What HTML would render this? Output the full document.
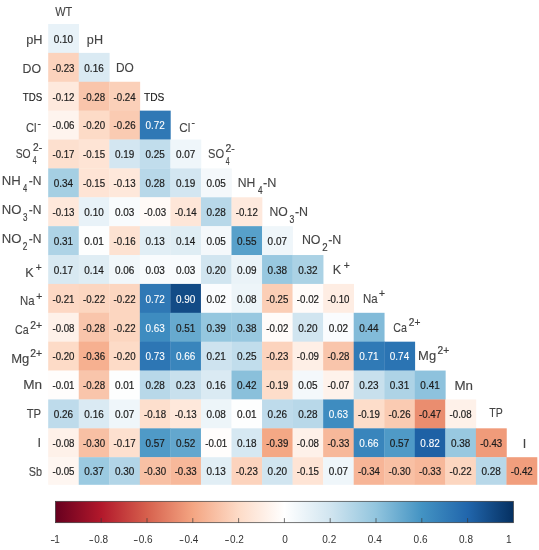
<!DOCTYPE html>
<html><head><meta charset="utf-8"><title>Correlation heatmap</title>
<style>
html,body{margin:0;padding:0;background:#fff;}
svg{display:block;font-family:"Liberation Sans",sans-serif;}
.c{font-size:10.6px;text-anchor:middle;fill:#1c1c1c;stroke:#1c1c1c;stroke-width:0.2px;}
.w{fill:#fff;stroke:#fff;stroke-width:0.1px;}
.l{font-size:12.6px;fill:#444;stroke:#444;stroke-width:0.12px;}
.d{font-size:11.4px;fill:#1a1a1a;stroke:#1a1a1a;stroke-width:0.15px;}
.s{font-size:10.2px;fill:#404040;stroke:#404040;stroke-width:0.2px;}
.t{font-size:10px;fill:#333;}
</style></head><body>
<svg width="539" height="550" viewBox="0 0 539 550">
<defs><linearGradient id="g" x1="0" x2="1" y1="0" y2="0"><stop offset="0%" stop-color="#67001f"/><stop offset="10%" stop-color="#b2182b"/><stop offset="20%" stop-color="#d6604d"/><stop offset="30%" stop-color="#f4a582"/><stop offset="40%" stop-color="#fddbc7"/><stop offset="50%" stop-color="#ffffff"/><stop offset="60%" stop-color="#d1e5f0"/><stop offset="70%" stop-color="#92c5de"/><stop offset="80%" stop-color="#4393c3"/><stop offset="90%" stop-color="#2166ac"/><stop offset="100%" stop-color="#053061"/></linearGradient></defs>
<rect width="539" height="550" fill="#fff"/>
<rect x="48.20" y="24.00" width="30.85" height="29.18" fill="#e8f2f8"/>
<rect x="48.20" y="52.88" width="30.85" height="29.18" fill="#fcd3bd"/><rect x="78.75" y="52.88" width="30.85" height="29.18" fill="#daeaf3"/>
<rect x="48.20" y="81.76" width="30.85" height="29.18" fill="#fee9dd"/><rect x="78.75" y="81.76" width="30.85" height="29.18" fill="#f9c5ab"/><rect x="109.30" y="81.76" width="30.85" height="29.18" fill="#fbd0b9"/>
<rect x="48.20" y="110.64" width="30.85" height="29.18" fill="#fef4ee"/><rect x="78.75" y="110.64" width="30.85" height="29.18" fill="#fddbc7"/><rect x="109.30" y="110.64" width="30.85" height="29.18" fill="#facbb2"/><rect x="139.85" y="110.64" width="30.85" height="29.18" fill="#2f78b5"/>
<rect x="48.20" y="139.52" width="30.85" height="29.18" fill="#fde0cf"/><rect x="78.75" y="139.52" width="30.85" height="29.18" fill="#fee4d5"/><rect x="109.30" y="139.52" width="30.85" height="29.18" fill="#d3e6f1"/><rect x="139.85" y="139.52" width="30.85" height="29.18" fill="#c1ddec"/><rect x="170.40" y="139.52" width="30.85" height="29.18" fill="#eff6fa"/>
<rect x="48.20" y="168.40" width="30.85" height="29.18" fill="#a5cfe3"/><rect x="78.75" y="168.40" width="30.85" height="29.18" fill="#fee4d5"/><rect x="109.30" y="168.40" width="30.85" height="29.18" fill="#fee8db"/><rect x="139.85" y="168.40" width="30.85" height="29.18" fill="#b8d8e9"/><rect x="170.40" y="168.40" width="30.85" height="29.18" fill="#d3e6f1"/><rect x="200.95" y="168.40" width="30.85" height="29.18" fill="#f4f8fb"/>
<rect x="48.20" y="197.28" width="30.85" height="29.18" fill="#fee8db"/><rect x="78.75" y="197.28" width="30.85" height="29.18" fill="#e8f2f8"/><rect x="109.30" y="197.28" width="30.85" height="29.18" fill="#f8fbfd"/><rect x="139.85" y="197.28" width="30.85" height="29.18" fill="#fffaf7"/><rect x="170.40" y="197.28" width="30.85" height="29.18" fill="#fee6d8"/><rect x="200.95" y="197.28" width="30.85" height="29.18" fill="#b8d8e9"/><rect x="231.50" y="197.28" width="30.85" height="29.18" fill="#fee9dd"/>
<rect x="48.20" y="226.16" width="30.85" height="29.18" fill="#aed3e6"/><rect x="78.75" y="226.16" width="30.85" height="29.18" fill="#fdfefe"/><rect x="109.30" y="226.16" width="30.85" height="29.18" fill="#fde2d2"/><rect x="139.85" y="226.16" width="30.85" height="29.18" fill="#e1eef5"/><rect x="170.40" y="226.16" width="30.85" height="29.18" fill="#dfedf4"/><rect x="200.95" y="226.16" width="30.85" height="29.18" fill="#f4f8fb"/><rect x="231.50" y="226.16" width="30.85" height="29.18" fill="#57a0ca"/><rect x="262.05" y="226.16" width="30.85" height="29.18" fill="#eff6fa"/>
<rect x="48.20" y="255.04" width="30.85" height="29.18" fill="#d8e9f2"/><rect x="78.75" y="255.04" width="30.85" height="29.18" fill="#dfedf4"/><rect x="109.30" y="255.04" width="30.85" height="29.18" fill="#f1f7fa"/><rect x="139.85" y="255.04" width="30.85" height="29.18" fill="#f8fbfd"/><rect x="170.40" y="255.04" width="30.85" height="29.18" fill="#f8fbfd"/><rect x="200.95" y="255.04" width="30.85" height="29.18" fill="#d1e5f0"/><rect x="231.50" y="255.04" width="30.85" height="29.18" fill="#eaf3f8"/><rect x="262.05" y="255.04" width="30.85" height="29.18" fill="#98c8e0"/><rect x="292.60" y="255.04" width="30.85" height="29.18" fill="#abd2e5"/>
<rect x="48.20" y="283.92" width="30.85" height="29.18" fill="#fdd8c4"/><rect x="78.75" y="283.92" width="30.85" height="29.18" fill="#fcd6c0"/><rect x="109.30" y="283.92" width="30.85" height="29.18" fill="#fcd6c0"/><rect x="139.85" y="283.92" width="30.85" height="29.18" fill="#2f78b5"/><rect x="170.40" y="283.92" width="30.85" height="29.18" fill="#134b86"/><rect x="200.95" y="283.92" width="30.85" height="29.18" fill="#fafcfe"/><rect x="231.50" y="283.92" width="30.85" height="29.18" fill="#edf5f9"/><rect x="262.05" y="283.92" width="30.85" height="29.18" fill="#fbceb6"/><rect x="292.60" y="283.92" width="30.85" height="29.18" fill="#fffbf9"/><rect x="323.15" y="283.92" width="30.85" height="29.18" fill="#feede3"/>
<rect x="48.20" y="312.80" width="30.85" height="29.18" fill="#fef1e9"/><rect x="78.75" y="312.80" width="30.85" height="29.18" fill="#f9c5ab"/><rect x="109.30" y="312.80" width="30.85" height="29.18" fill="#fcd6c0"/><rect x="139.85" y="312.80" width="30.85" height="29.18" fill="#3e8cc0"/><rect x="170.40" y="312.80" width="30.85" height="29.18" fill="#67aacf"/><rect x="200.95" y="312.80" width="30.85" height="29.18" fill="#95c7df"/><rect x="231.50" y="312.80" width="30.85" height="29.18" fill="#98c8e0"/><rect x="262.05" y="312.80" width="30.85" height="29.18" fill="#fffbf9"/><rect x="292.60" y="312.80" width="30.85" height="29.18" fill="#d1e5f0"/><rect x="323.15" y="312.80" width="30.85" height="29.18" fill="#fafcfe"/><rect x="353.70" y="312.80" width="30.85" height="29.18" fill="#82bbd9"/>
<rect x="48.20" y="341.68" width="30.85" height="29.18" fill="#fddbc7"/><rect x="78.75" y="341.68" width="30.85" height="29.18" fill="#f6b090"/><rect x="109.30" y="341.68" width="30.85" height="29.18" fill="#fddbc7"/><rect x="139.85" y="341.68" width="30.85" height="29.18" fill="#2d76b4"/><rect x="170.40" y="341.68" width="30.85" height="29.18" fill="#3985bc"/><rect x="200.95" y="341.68" width="30.85" height="29.18" fill="#cee3ef"/><rect x="231.50" y="341.68" width="30.85" height="29.18" fill="#c1ddec"/><rect x="262.05" y="341.68" width="30.85" height="29.18" fill="#fcd3bd"/><rect x="292.60" y="341.68" width="30.85" height="29.18" fill="#feefe6"/><rect x="323.15" y="341.68" width="30.85" height="29.18" fill="#f9c5ab"/><rect x="353.70" y="341.68" width="30.85" height="29.18" fill="#307ab6"/><rect x="384.25" y="341.68" width="30.85" height="29.18" fill="#2b74b3"/>
<rect x="48.20" y="370.56" width="30.85" height="29.18" fill="#fffdfc"/><rect x="78.75" y="370.56" width="30.85" height="29.18" fill="#f9c5ab"/><rect x="109.30" y="370.56" width="30.85" height="29.18" fill="#fdfefe"/><rect x="139.85" y="370.56" width="30.85" height="29.18" fill="#b8d8e9"/><rect x="170.40" y="370.56" width="30.85" height="29.18" fill="#c8e0ed"/><rect x="200.95" y="370.56" width="30.85" height="29.18" fill="#daeaf3"/><rect x="231.50" y="370.56" width="30.85" height="29.18" fill="#8ac0db"/><rect x="262.05" y="370.56" width="30.85" height="29.18" fill="#fdddca"/><rect x="292.60" y="370.56" width="30.85" height="29.18" fill="#f4f8fb"/><rect x="323.15" y="370.56" width="30.85" height="29.18" fill="#fef2eb"/><rect x="353.70" y="370.56" width="30.85" height="29.18" fill="#c8e0ed"/><rect x="384.25" y="370.56" width="30.85" height="29.18" fill="#aed3e6"/><rect x="414.80" y="370.56" width="30.85" height="29.18" fill="#8ec2dd"/>
<rect x="48.20" y="399.44" width="30.85" height="29.18" fill="#bedbeb"/><rect x="78.75" y="399.44" width="30.85" height="29.18" fill="#daeaf3"/><rect x="109.30" y="399.44" width="30.85" height="29.18" fill="#eff6fa"/><rect x="139.85" y="399.44" width="30.85" height="29.18" fill="#fddfcd"/><rect x="170.40" y="399.44" width="30.85" height="29.18" fill="#fee8db"/><rect x="200.95" y="399.44" width="30.85" height="29.18" fill="#edf5f9"/><rect x="231.50" y="399.44" width="30.85" height="29.18" fill="#fdfefe"/><rect x="262.05" y="399.44" width="30.85" height="29.18" fill="#bedbeb"/><rect x="292.60" y="399.44" width="30.85" height="29.18" fill="#b8d8e9"/><rect x="323.15" y="399.44" width="30.85" height="29.18" fill="#3e8cc0"/><rect x="353.70" y="399.44" width="30.85" height="29.18" fill="#fdddca"/><rect x="384.25" y="399.44" width="30.85" height="29.18" fill="#facbb2"/><rect x="414.80" y="399.44" width="30.85" height="29.18" fill="#ea8d6f"/><rect x="445.35" y="399.44" width="30.85" height="29.18" fill="#fef1e9"/>
<rect x="48.20" y="428.32" width="30.85" height="29.18" fill="#fef1e9"/><rect x="78.75" y="428.32" width="30.85" height="29.18" fill="#f8c0a4"/><rect x="109.30" y="428.32" width="30.85" height="29.18" fill="#fde0cf"/><rect x="139.85" y="428.32" width="30.85" height="29.18" fill="#4f9ac7"/><rect x="170.40" y="428.32" width="30.85" height="29.18" fill="#63a7ce"/><rect x="200.95" y="428.32" width="30.85" height="29.18" fill="#fffdfc"/><rect x="231.50" y="428.32" width="30.85" height="29.18" fill="#d6e8f2"/><rect x="262.05" y="428.32" width="30.85" height="29.18" fill="#f4a885"/><rect x="292.60" y="428.32" width="30.85" height="29.18" fill="#fef1e9"/><rect x="323.15" y="428.32" width="30.85" height="29.18" fill="#f7b89a"/><rect x="353.70" y="428.32" width="30.85" height="29.18" fill="#3985bc"/><rect x="384.25" y="428.32" width="30.85" height="29.18" fill="#4f9ac7"/><rect x="414.80" y="428.32" width="30.85" height="29.18" fill="#1e61a5"/><rect x="445.35" y="428.32" width="30.85" height="29.18" fill="#98c8e0"/><rect x="475.90" y="428.32" width="30.85" height="29.18" fill="#f09b7a"/>
<rect x="48.20" y="457.20" width="30.85" height="27.60" fill="#fef6f1"/><rect x="78.75" y="457.20" width="30.85" height="27.60" fill="#9bcae1"/><rect x="109.30" y="457.20" width="30.85" height="27.60" fill="#b2d5e7"/><rect x="139.85" y="457.20" width="30.85" height="27.60" fill="#f8c0a4"/><rect x="170.40" y="457.20" width="30.85" height="27.60" fill="#f7b89a"/><rect x="200.95" y="457.20" width="30.85" height="27.60" fill="#e1eef5"/><rect x="231.50" y="457.20" width="30.85" height="27.60" fill="#fcd3bd"/><rect x="262.05" y="457.20" width="30.85" height="27.60" fill="#d1e5f0"/><rect x="292.60" y="457.20" width="30.85" height="27.60" fill="#fee4d5"/><rect x="323.15" y="457.20" width="30.85" height="27.60" fill="#eff6fa"/><rect x="353.70" y="457.20" width="30.85" height="27.60" fill="#f7b597"/><rect x="384.25" y="457.20" width="30.85" height="27.60" fill="#f8c0a4"/><rect x="414.80" y="457.20" width="30.85" height="27.60" fill="#f7b89a"/><rect x="445.35" y="457.20" width="30.85" height="27.60" fill="#fcd6c0"/><rect x="475.90" y="457.20" width="30.85" height="27.60" fill="#b8d8e9"/><rect x="506.45" y="457.20" width="30.85" height="27.60" fill="#f19e7d"/>
<text class="c" x="63.48" y="42.74" textLength="19.4" lengthAdjust="spacingAndGlyphs">0.10</text>
<text class="c" x="63.48" y="71.62" textLength="22.1" lengthAdjust="spacingAndGlyphs">-0.23</text><text class="c" x="94.03" y="71.62" textLength="19.4" lengthAdjust="spacingAndGlyphs">0.16</text>
<text class="c" x="63.48" y="100.50" textLength="22.1" lengthAdjust="spacingAndGlyphs">-0.12</text><text class="c" x="94.03" y="100.50" textLength="22.1" lengthAdjust="spacingAndGlyphs">-0.28</text><text class="c" x="124.58" y="100.50" textLength="22.1" lengthAdjust="spacingAndGlyphs">-0.24</text>
<text class="c" x="63.48" y="129.38" textLength="22.1" lengthAdjust="spacingAndGlyphs">-0.06</text><text class="c" x="94.03" y="129.38" textLength="22.1" lengthAdjust="spacingAndGlyphs">-0.20</text><text class="c" x="124.58" y="129.38" textLength="22.1" lengthAdjust="spacingAndGlyphs">-0.26</text><text class="c w" x="155.12" y="129.38" textLength="19.4" lengthAdjust="spacingAndGlyphs">0.72</text>
<text class="c" x="63.48" y="158.26" textLength="22.1" lengthAdjust="spacingAndGlyphs">-0.17</text><text class="c" x="94.03" y="158.26" textLength="22.1" lengthAdjust="spacingAndGlyphs">-0.15</text><text class="c" x="124.58" y="158.26" textLength="19.4" lengthAdjust="spacingAndGlyphs">0.19</text><text class="c" x="155.12" y="158.26" textLength="19.4" lengthAdjust="spacingAndGlyphs">0.25</text><text class="c" x="185.68" y="158.26" textLength="19.4" lengthAdjust="spacingAndGlyphs">0.07</text>
<text class="c" x="63.48" y="187.14" textLength="19.4" lengthAdjust="spacingAndGlyphs">0.34</text><text class="c" x="94.03" y="187.14" textLength="22.1" lengthAdjust="spacingAndGlyphs">-0.15</text><text class="c" x="124.58" y="187.14" textLength="22.1" lengthAdjust="spacingAndGlyphs">-0.13</text><text class="c" x="155.12" y="187.14" textLength="19.4" lengthAdjust="spacingAndGlyphs">0.28</text><text class="c" x="185.68" y="187.14" textLength="19.4" lengthAdjust="spacingAndGlyphs">0.19</text><text class="c" x="216.23" y="187.14" textLength="19.4" lengthAdjust="spacingAndGlyphs">0.05</text>
<text class="c" x="63.48" y="216.02" textLength="22.1" lengthAdjust="spacingAndGlyphs">-0.13</text><text class="c" x="94.03" y="216.02" textLength="19.4" lengthAdjust="spacingAndGlyphs">0.10</text><text class="c" x="124.58" y="216.02" textLength="19.4" lengthAdjust="spacingAndGlyphs">0.03</text><text class="c" x="155.12" y="216.02" textLength="22.1" lengthAdjust="spacingAndGlyphs">-0.03</text><text class="c" x="185.68" y="216.02" textLength="22.1" lengthAdjust="spacingAndGlyphs">-0.14</text><text class="c" x="216.23" y="216.02" textLength="19.4" lengthAdjust="spacingAndGlyphs">0.28</text><text class="c" x="246.78" y="216.02" textLength="22.1" lengthAdjust="spacingAndGlyphs">-0.12</text>
<text class="c" x="63.48" y="244.90" textLength="19.4" lengthAdjust="spacingAndGlyphs">0.31</text><text class="c" x="94.03" y="244.90" textLength="19.4" lengthAdjust="spacingAndGlyphs">0.01</text><text class="c" x="124.58" y="244.90" textLength="22.1" lengthAdjust="spacingAndGlyphs">-0.16</text><text class="c" x="155.12" y="244.90" textLength="19.4" lengthAdjust="spacingAndGlyphs">0.13</text><text class="c" x="185.68" y="244.90" textLength="19.4" lengthAdjust="spacingAndGlyphs">0.14</text><text class="c" x="216.23" y="244.90" textLength="19.4" lengthAdjust="spacingAndGlyphs">0.05</text><text class="c" x="246.78" y="244.90" textLength="19.4" lengthAdjust="spacingAndGlyphs">0.55</text><text class="c" x="277.32" y="244.90" textLength="19.4" lengthAdjust="spacingAndGlyphs">0.07</text>
<text class="c" x="63.48" y="273.78" textLength="19.4" lengthAdjust="spacingAndGlyphs">0.17</text><text class="c" x="94.03" y="273.78" textLength="19.4" lengthAdjust="spacingAndGlyphs">0.14</text><text class="c" x="124.58" y="273.78" textLength="19.4" lengthAdjust="spacingAndGlyphs">0.06</text><text class="c" x="155.12" y="273.78" textLength="19.4" lengthAdjust="spacingAndGlyphs">0.03</text><text class="c" x="185.68" y="273.78" textLength="19.4" lengthAdjust="spacingAndGlyphs">0.03</text><text class="c" x="216.23" y="273.78" textLength="19.4" lengthAdjust="spacingAndGlyphs">0.20</text><text class="c" x="246.78" y="273.78" textLength="19.4" lengthAdjust="spacingAndGlyphs">0.09</text><text class="c" x="277.32" y="273.78" textLength="19.4" lengthAdjust="spacingAndGlyphs">0.38</text><text class="c" x="307.88" y="273.78" textLength="19.4" lengthAdjust="spacingAndGlyphs">0.32</text>
<text class="c" x="63.48" y="302.66" textLength="22.1" lengthAdjust="spacingAndGlyphs">-0.21</text><text class="c" x="94.03" y="302.66" textLength="22.1" lengthAdjust="spacingAndGlyphs">-0.22</text><text class="c" x="124.58" y="302.66" textLength="22.1" lengthAdjust="spacingAndGlyphs">-0.22</text><text class="c w" x="155.12" y="302.66" textLength="19.4" lengthAdjust="spacingAndGlyphs">0.72</text><text class="c w" x="185.68" y="302.66" textLength="19.4" lengthAdjust="spacingAndGlyphs">0.90</text><text class="c" x="216.23" y="302.66" textLength="19.4" lengthAdjust="spacingAndGlyphs">0.02</text><text class="c" x="246.78" y="302.66" textLength="19.4" lengthAdjust="spacingAndGlyphs">0.08</text><text class="c" x="277.32" y="302.66" textLength="22.1" lengthAdjust="spacingAndGlyphs">-0.25</text><text class="c" x="307.88" y="302.66" textLength="22.1" lengthAdjust="spacingAndGlyphs">-0.02</text><text class="c" x="338.43" y="302.66" textLength="22.1" lengthAdjust="spacingAndGlyphs">-0.10</text>
<text class="c" x="63.48" y="331.54" textLength="22.1" lengthAdjust="spacingAndGlyphs">-0.08</text><text class="c" x="94.03" y="331.54" textLength="22.1" lengthAdjust="spacingAndGlyphs">-0.28</text><text class="c" x="124.58" y="331.54" textLength="22.1" lengthAdjust="spacingAndGlyphs">-0.22</text><text class="c w" x="155.12" y="331.54" textLength="19.4" lengthAdjust="spacingAndGlyphs">0.63</text><text class="c" x="185.68" y="331.54" textLength="19.4" lengthAdjust="spacingAndGlyphs">0.51</text><text class="c" x="216.23" y="331.54" textLength="19.4" lengthAdjust="spacingAndGlyphs">0.39</text><text class="c" x="246.78" y="331.54" textLength="19.4" lengthAdjust="spacingAndGlyphs">0.38</text><text class="c" x="277.32" y="331.54" textLength="22.1" lengthAdjust="spacingAndGlyphs">-0.02</text><text class="c" x="307.88" y="331.54" textLength="19.4" lengthAdjust="spacingAndGlyphs">0.20</text><text class="c" x="338.43" y="331.54" textLength="19.4" lengthAdjust="spacingAndGlyphs">0.02</text><text class="c" x="368.98" y="331.54" textLength="19.4" lengthAdjust="spacingAndGlyphs">0.44</text>
<text class="c" x="63.48" y="360.42" textLength="22.1" lengthAdjust="spacingAndGlyphs">-0.20</text><text class="c" x="94.03" y="360.42" textLength="22.1" lengthAdjust="spacingAndGlyphs">-0.36</text><text class="c" x="124.58" y="360.42" textLength="22.1" lengthAdjust="spacingAndGlyphs">-0.20</text><text class="c w" x="155.12" y="360.42" textLength="19.4" lengthAdjust="spacingAndGlyphs">0.73</text><text class="c w" x="185.68" y="360.42" textLength="19.4" lengthAdjust="spacingAndGlyphs">0.66</text><text class="c" x="216.23" y="360.42" textLength="19.4" lengthAdjust="spacingAndGlyphs">0.21</text><text class="c" x="246.78" y="360.42" textLength="19.4" lengthAdjust="spacingAndGlyphs">0.25</text><text class="c" x="277.32" y="360.42" textLength="22.1" lengthAdjust="spacingAndGlyphs">-0.23</text><text class="c" x="307.88" y="360.42" textLength="22.1" lengthAdjust="spacingAndGlyphs">-0.09</text><text class="c" x="338.43" y="360.42" textLength="22.1" lengthAdjust="spacingAndGlyphs">-0.28</text><text class="c w" x="368.98" y="360.42" textLength="19.4" lengthAdjust="spacingAndGlyphs">0.71</text><text class="c w" x="399.52" y="360.42" textLength="19.4" lengthAdjust="spacingAndGlyphs">0.74</text>
<text class="c" x="63.48" y="389.30" textLength="22.1" lengthAdjust="spacingAndGlyphs">-0.01</text><text class="c" x="94.03" y="389.30" textLength="22.1" lengthAdjust="spacingAndGlyphs">-0.28</text><text class="c" x="124.58" y="389.30" textLength="19.4" lengthAdjust="spacingAndGlyphs">0.01</text><text class="c" x="155.12" y="389.30" textLength="19.4" lengthAdjust="spacingAndGlyphs">0.28</text><text class="c" x="185.68" y="389.30" textLength="19.4" lengthAdjust="spacingAndGlyphs">0.23</text><text class="c" x="216.23" y="389.30" textLength="19.4" lengthAdjust="spacingAndGlyphs">0.16</text><text class="c" x="246.78" y="389.30" textLength="19.4" lengthAdjust="spacingAndGlyphs">0.42</text><text class="c" x="277.32" y="389.30" textLength="22.1" lengthAdjust="spacingAndGlyphs">-0.19</text><text class="c" x="307.88" y="389.30" textLength="19.4" lengthAdjust="spacingAndGlyphs">0.05</text><text class="c" x="338.43" y="389.30" textLength="22.1" lengthAdjust="spacingAndGlyphs">-0.07</text><text class="c" x="368.98" y="389.30" textLength="19.4" lengthAdjust="spacingAndGlyphs">0.23</text><text class="c" x="399.52" y="389.30" textLength="19.4" lengthAdjust="spacingAndGlyphs">0.31</text><text class="c" x="430.07" y="389.30" textLength="19.4" lengthAdjust="spacingAndGlyphs">0.41</text>
<text class="c" x="63.48" y="418.18" textLength="19.4" lengthAdjust="spacingAndGlyphs">0.26</text><text class="c" x="94.03" y="418.18" textLength="19.4" lengthAdjust="spacingAndGlyphs">0.16</text><text class="c" x="124.58" y="418.18" textLength="19.4" lengthAdjust="spacingAndGlyphs">0.07</text><text class="c" x="155.12" y="418.18" textLength="22.1" lengthAdjust="spacingAndGlyphs">-0.18</text><text class="c" x="185.68" y="418.18" textLength="22.1" lengthAdjust="spacingAndGlyphs">-0.13</text><text class="c" x="216.23" y="418.18" textLength="19.4" lengthAdjust="spacingAndGlyphs">0.08</text><text class="c" x="246.78" y="418.18" textLength="19.4" lengthAdjust="spacingAndGlyphs">0.01</text><text class="c" x="277.32" y="418.18" textLength="19.4" lengthAdjust="spacingAndGlyphs">0.26</text><text class="c" x="307.88" y="418.18" textLength="19.4" lengthAdjust="spacingAndGlyphs">0.28</text><text class="c w" x="338.43" y="418.18" textLength="19.4" lengthAdjust="spacingAndGlyphs">0.63</text><text class="c" x="368.98" y="418.18" textLength="22.1" lengthAdjust="spacingAndGlyphs">-0.19</text><text class="c" x="399.52" y="418.18" textLength="22.1" lengthAdjust="spacingAndGlyphs">-0.26</text><text class="c" x="430.07" y="418.18" textLength="22.1" lengthAdjust="spacingAndGlyphs">-0.47</text><text class="c" x="460.62" y="418.18" textLength="22.1" lengthAdjust="spacingAndGlyphs">-0.08</text>
<text class="c" x="63.48" y="447.06" textLength="22.1" lengthAdjust="spacingAndGlyphs">-0.08</text><text class="c" x="94.03" y="447.06" textLength="22.1" lengthAdjust="spacingAndGlyphs">-0.30</text><text class="c" x="124.58" y="447.06" textLength="22.1" lengthAdjust="spacingAndGlyphs">-0.17</text><text class="c" x="155.12" y="447.06" textLength="19.4" lengthAdjust="spacingAndGlyphs">0.57</text><text class="c" x="185.68" y="447.06" textLength="19.4" lengthAdjust="spacingAndGlyphs">0.52</text><text class="c" x="216.23" y="447.06" textLength="22.1" lengthAdjust="spacingAndGlyphs">-0.01</text><text class="c" x="246.78" y="447.06" textLength="19.4" lengthAdjust="spacingAndGlyphs">0.18</text><text class="c" x="277.32" y="447.06" textLength="22.1" lengthAdjust="spacingAndGlyphs">-0.39</text><text class="c" x="307.88" y="447.06" textLength="22.1" lengthAdjust="spacingAndGlyphs">-0.08</text><text class="c" x="338.43" y="447.06" textLength="22.1" lengthAdjust="spacingAndGlyphs">-0.33</text><text class="c w" x="368.98" y="447.06" textLength="19.4" lengthAdjust="spacingAndGlyphs">0.66</text><text class="c" x="399.52" y="447.06" textLength="19.4" lengthAdjust="spacingAndGlyphs">0.57</text><text class="c w" x="430.07" y="447.06" textLength="19.4" lengthAdjust="spacingAndGlyphs">0.82</text><text class="c" x="460.62" y="447.06" textLength="19.4" lengthAdjust="spacingAndGlyphs">0.38</text><text class="c" x="491.18" y="447.06" textLength="22.1" lengthAdjust="spacingAndGlyphs">-0.43</text>
<text class="c" x="63.48" y="475.30" textLength="22.1" lengthAdjust="spacingAndGlyphs">-0.05</text><text class="c" x="94.03" y="475.30" textLength="19.4" lengthAdjust="spacingAndGlyphs">0.37</text><text class="c" x="124.58" y="475.30" textLength="19.4" lengthAdjust="spacingAndGlyphs">0.30</text><text class="c" x="155.12" y="475.30" textLength="22.1" lengthAdjust="spacingAndGlyphs">-0.30</text><text class="c" x="185.68" y="475.30" textLength="22.1" lengthAdjust="spacingAndGlyphs">-0.33</text><text class="c" x="216.23" y="475.30" textLength="19.4" lengthAdjust="spacingAndGlyphs">0.13</text><text class="c" x="246.78" y="475.30" textLength="22.1" lengthAdjust="spacingAndGlyphs">-0.23</text><text class="c" x="277.32" y="475.30" textLength="19.4" lengthAdjust="spacingAndGlyphs">0.20</text><text class="c" x="307.88" y="475.30" textLength="22.1" lengthAdjust="spacingAndGlyphs">-0.15</text><text class="c" x="338.43" y="475.30" textLength="19.4" lengthAdjust="spacingAndGlyphs">0.07</text><text class="c" x="368.98" y="475.30" textLength="22.1" lengthAdjust="spacingAndGlyphs">-0.34</text><text class="c" x="399.52" y="475.30" textLength="22.1" lengthAdjust="spacingAndGlyphs">-0.30</text><text class="c" x="430.07" y="475.30" textLength="22.1" lengthAdjust="spacingAndGlyphs">-0.33</text><text class="c" x="460.62" y="475.30" textLength="22.1" lengthAdjust="spacingAndGlyphs">-0.22</text><text class="c" x="491.18" y="475.30" textLength="19.4" lengthAdjust="spacingAndGlyphs">0.28</text><text class="c" x="521.73" y="475.30" textLength="22.1" lengthAdjust="spacingAndGlyphs">-0.42</text>
<text class="l" x="26.18" y="43.6" textLength="16.36" lengthAdjust="spacingAndGlyphs">pH</text>
<text class="l" x="22.59" y="73.0" textLength="18.50" lengthAdjust="spacingAndGlyphs">DO</text>
<text class="d" x="22.79" y="101.2" textLength="19.45" lengthAdjust="spacingAndGlyphs">TDS</text>
<text class="l" x="25.94" y="132.4" textLength="10.49" lengthAdjust="spacingAndGlyphs">Cl</text><text class="s" x="37.60" y="126.7">-</text>
<text class="l" x="15.73" y="157.7" textLength="14.96" lengthAdjust="spacingAndGlyphs">SO</text><text class="s" x="32.85" y="164.0" textLength="3.74" lengthAdjust="spacingAndGlyphs">4</text><text class="s" x="32.99" y="151.4" textLength="9.06" lengthAdjust="spacingAndGlyphs">2-</text>
<text class="l" x="1.82" y="184.7" textLength="19.05" lengthAdjust="spacingAndGlyphs">NH</text><text class="s" x="23.03" y="191.7" textLength="4.18" lengthAdjust="spacingAndGlyphs">4</text><text class="l" x="28.77" y="184.7" textLength="12.71" lengthAdjust="spacingAndGlyphs">-N</text>
<text class="l" x="1.82" y="213.6" textLength="19.71" lengthAdjust="spacingAndGlyphs">NO</text><text class="s" x="22.90" y="220.5" textLength="4.45" lengthAdjust="spacingAndGlyphs">3</text><text class="l" x="28.77" y="213.6" textLength="12.71" lengthAdjust="spacingAndGlyphs">-N</text>
<text class="l" x="1.82" y="243.0" textLength="19.71" lengthAdjust="spacingAndGlyphs">NO</text><text class="s" x="22.78" y="250.2" textLength="4.63" lengthAdjust="spacingAndGlyphs">2</text><text class="l" x="28.77" y="243.0" textLength="12.71" lengthAdjust="spacingAndGlyphs">-N</text>
<text class="l" x="25.35" y="276.6">K</text><text class="s" x="35.78" y="270.7">+</text>
<text class="l" x="20.07" y="305.2" textLength="14.52" lengthAdjust="spacingAndGlyphs">Na</text><text class="s" x="36.18" y="299.7">+</text>
<text class="l" x="15.07" y="334.4" textLength="13.63" lengthAdjust="spacingAndGlyphs">Ca</text><text class="s" x="30.28" y="328.6" textLength="11.83" lengthAdjust="spacingAndGlyphs">2+</text>
<text class="l" x="11.23" y="363.0" textLength="18.11" lengthAdjust="spacingAndGlyphs">Mg</text><text class="s" x="30.28" y="356.9" textLength="11.83" lengthAdjust="spacingAndGlyphs">2+</text>
<text class="l" x="23.19" y="389.0" textLength="18.89" lengthAdjust="spacingAndGlyphs">Mn</text>
<text class="l" x="26.65" y="418.0" textLength="14.43" lengthAdjust="spacingAndGlyphs">TP</text>
<text class="l" x="37.55" y="447.3">I</text>
<text class="l" x="28.81" y="475.8" textLength="13.23" lengthAdjust="spacingAndGlyphs">Sb</text>
<text class="l" x="55.16" y="15.6" textLength="17.09" lengthAdjust="spacingAndGlyphs">WT</text>
<text class="l" x="86.89" y="43.9" textLength="16.13" lengthAdjust="spacingAndGlyphs">pH</text>
<text class="l" x="116.02" y="72.4" textLength="17.85" lengthAdjust="spacingAndGlyphs">DO</text>
<text class="d" x="143.98" y="100.8" textLength="20.38" lengthAdjust="spacingAndGlyphs">TDS</text>
<text class="l" x="179.21" y="131.8" textLength="11.06" lengthAdjust="spacingAndGlyphs">Cl</text><text class="s" x="191.50" y="126.2">-</text>
<text class="l" x="208.00" y="158.2" textLength="16.03" lengthAdjust="spacingAndGlyphs">SO</text><text class="s" x="225.85" y="164.6" textLength="3.74" lengthAdjust="spacingAndGlyphs">4</text><text class="s" x="225.48" y="151.6" textLength="9.28" lengthAdjust="spacingAndGlyphs">2-</text>
<text class="l" x="237.70" y="187.3" textLength="17.59" lengthAdjust="spacingAndGlyphs">NH</text><text class="s" x="257.92" y="194.0" textLength="4.52" lengthAdjust="spacingAndGlyphs">4</text><text class="l" x="263.14" y="187.3" textLength="13.39" lengthAdjust="spacingAndGlyphs">-N</text>
<text class="l" x="269.50" y="216.3" textLength="18.28" lengthAdjust="spacingAndGlyphs">NO</text><text class="s" x="289.47" y="222.9" textLength="4.80" lengthAdjust="spacingAndGlyphs">3</text><text class="l" x="294.95" y="216.3" textLength="13.16" lengthAdjust="spacingAndGlyphs">-N</text>
<text class="l" x="301.88" y="244.4" textLength="18.61" lengthAdjust="spacingAndGlyphs">NO</text><text class="s" x="322.32" y="250.6" textLength="5.37" lengthAdjust="spacingAndGlyphs">2</text><text class="l" x="328.15" y="244.4" textLength="13.16" lengthAdjust="spacingAndGlyphs">-N</text>
<text class="l" x="332.75" y="274.0">K</text><text class="s" x="343.68" y="268.9">+</text>
<text class="l" x="363.06" y="302.9" textLength="14.63" lengthAdjust="spacingAndGlyphs">Na</text><text class="s" x="379.03" y="297.4">+</text>
<text class="l" x="393.27" y="331.5" textLength="13.63" lengthAdjust="spacingAndGlyphs">Ca</text><text class="s" x="408.79" y="326.1" textLength="11.61" lengthAdjust="spacingAndGlyphs">2+</text>
<text class="l" x="418.14" y="359.9" textLength="17.99" lengthAdjust="spacingAndGlyphs">Mg</text><text class="s" x="437.59" y="354.4" textLength="11.61" lengthAdjust="spacingAndGlyphs">2+</text>
<text class="l" x="454.40" y="390.0" textLength="18.55" lengthAdjust="spacingAndGlyphs">Mn</text>
<text class="l" x="489.27" y="417.3" textLength="13.48" lengthAdjust="spacingAndGlyphs">TP</text>
<text class="l" x="522.85" y="447.8">I</text>
<rect x="55.4" y="501.3" width="458.0" height="21.4" fill="url(#g)" stroke="#3a3a3a" stroke-width="0.7"/>
<line x1="101.2" x2="101.2" y1="518.1" y2="522.7" stroke="#3a3a3a" stroke-width="0.7"/><line x1="147.0" x2="147.0" y1="518.1" y2="522.7" stroke="#3a3a3a" stroke-width="0.7"/><line x1="192.8" x2="192.8" y1="518.1" y2="522.7" stroke="#3a3a3a" stroke-width="0.7"/><line x1="238.6" x2="238.6" y1="518.1" y2="522.7" stroke="#3a3a3a" stroke-width="0.7"/><line x1="284.4" x2="284.4" y1="518.1" y2="522.7" stroke="#3a3a3a" stroke-width="0.7"/><line x1="330.2" x2="330.2" y1="518.1" y2="522.7" stroke="#3a3a3a" stroke-width="0.7"/><line x1="376.0" x2="376.0" y1="518.1" y2="522.7" stroke="#3a3a3a" stroke-width="0.7"/><line x1="421.8" x2="421.8" y1="518.1" y2="522.7" stroke="#3a3a3a" stroke-width="0.7"/><line x1="467.6" x2="467.6" y1="518.1" y2="522.7" stroke="#3a3a3a" stroke-width="0.7"/>
<text class="t" x="50.24" y="543.4" textLength="5.03" lengthAdjust="spacingAndGlyphs">-</text><text class="t" x="54.32" y="543.4">1</text><text class="t" x="88.74" y="543.4" textLength="5.03" lengthAdjust="spacingAndGlyphs">-</text><text class="t" x="94.13" y="543.4">0.8</text><text class="t" x="133.34" y="543.4" textLength="5.03" lengthAdjust="spacingAndGlyphs">-</text><text class="t" x="138.63" y="543.4">0.6</text><text class="t" x="179.14" y="543.4" textLength="5.03" lengthAdjust="spacingAndGlyphs">-</text><text class="t" x="184.39" y="543.4">0.4</text><text class="t" x="224.64" y="543.4" textLength="5.03" lengthAdjust="spacingAndGlyphs">-</text><text class="t" x="230.00" y="543.4">0.2</text><text class="t" x="282.21" y="543.4">0</text><text class="t" x="322.31" y="543.4">0.2</text><text class="t" x="367.85" y="543.4">0.4</text><text class="t" x="413.62" y="543.4">0.6</text><text class="t" x="459.07" y="543.4">0.8</text><text class="t" x="505.98" y="543.4">1</text>
</svg>
</body></html>
